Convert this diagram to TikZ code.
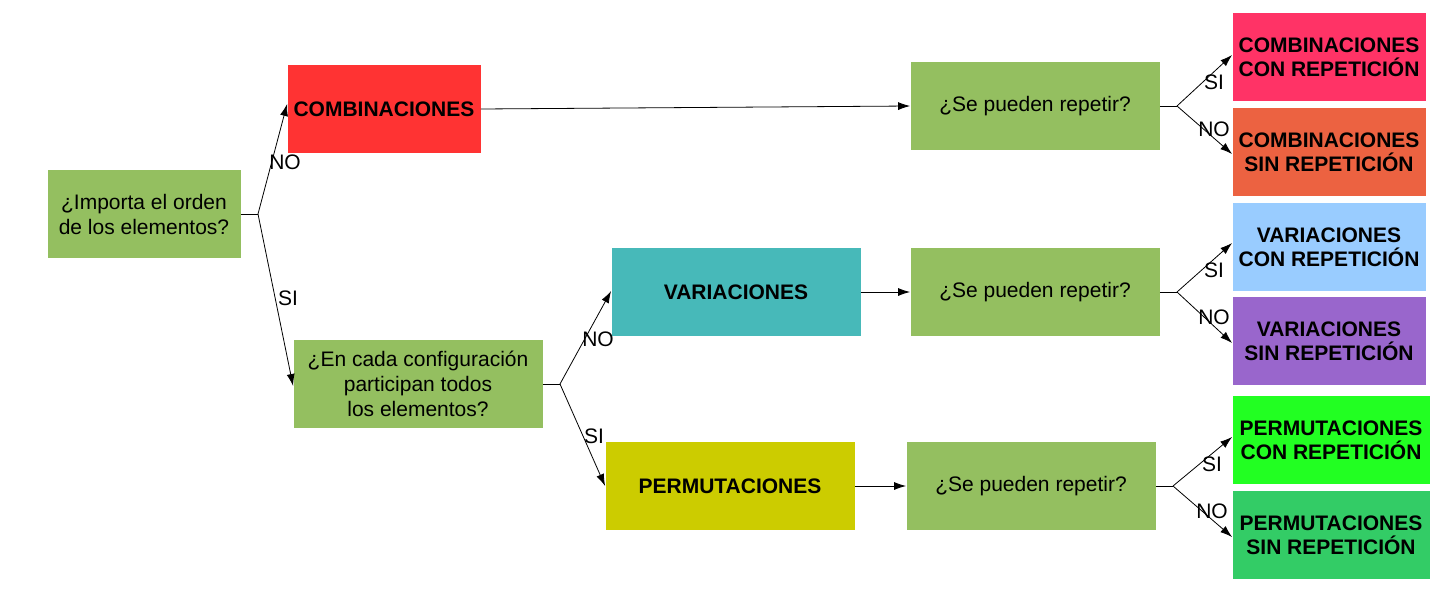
\documentclass[tikz,border=0pt]{standalone}
\usepackage{fontspec}
\setmainfont{Liberation Sans}
\usetikzlibrary{arrows.meta}
\definecolor{qg}{HTML}{94BF60}
\definecolor{cred}{HTML}{FF3333}
\definecolor{ccr}{HTML}{FF3366}
\definecolor{csr}{HTML}{EC6241}
\definecolor{var}{HTML}{47B9B9}
\definecolor{vcr}{HTML}{99CCFF}
\definecolor{vsr}{HTML}{9966CC}
\definecolor{perm}{HTML}{CCCC00}
\definecolor{pcr}{HTML}{22FF22}
\definecolor{psr}{HTML}{33CC66}
\begin{document}
\begin{tikzpicture}[x=0.5pt,y=-0.5pt,
  box/.style={minimum width=96.5pt,minimum height=44pt,inner sep=0pt,align=center,font=\fontsize{10.5}{12.5}\selectfont},
  qbox/.style={box,fill=qg,minimum width=124.5pt},
  res/.style={box,minimum width=96.5pt,font=\fontsize{10.5}{12}\selectfont\bfseries},
  big/.style={box,minimum width=124.5pt,font=\fontsize{10.5}{12}\selectfont\bfseries},
  arr/.style={-{Latex[length=6pt,width=4pt]},black},
  ln/.style={black},
  lab/.style={font=\fontsize{10.5}{12}\selectfont}]
\useasboundingbox (0,0) rectangle (1440,589);
\fill[white] (0,0) rectangle (1440,589);
\node[box,fill=qg] (A) at (144,214) {¿Importa el orden\\de los elementos?};
\node[res,fill=cred] (C) at (384,109) {COMBINACIONES};
\node[qbox] (Q1) at (1035,106) {¿Se pueden repetir?};
\node[res,fill=ccr] (CCR) at (1329,57) {COMBINACIONES\\CON REPETICIÓN};
\node[res,fill=csr] (CSR) at (1329,152) {COMBINACIONES\\SIN REPETICIÓN};
\node[qbox] (B) at (418,384) {¿En cada configuración\\participan todos\\los elementos?};
\node[big,fill=var] (V) at (736,292) {VARIACIONES};
\node[qbox] (Q2) at (1035,292) {¿Se pueden repetir?};
\node[res,fill=vcr] (VCR) at (1329,247) {VARIACIONES\\CON REPETICIÓN};
\node[res,fill=vsr] (VSR) at (1329,341) {VARIACIONES\\SIN REPETICIÓN};
\node[big,fill=perm] (P) at (730,486) {PERMUTACIONES};
\node[qbox] (Q3) at (1031,486) {¿Se pueden repetir?};
\node[res,fill=pcr,minimum width=98.5pt] (PCR) at (1331,440) {PERMUTACIONES\\CON REPETICIÓN};
\node[res,fill=psr,minimum width=98.5pt] (PSR) at (1331,535) {PERMUTACIONES\\SIN REPETICIÓN};
% A split
\coordinate (a1) at (258,214);
\draw[ln] (A.east) -- (a1);
\draw[arr] (a1) -- (C.west|-0,104);
\draw[arr] (a1) -- (B.west|-0,386);
\node[lab] (lno1) at (285,162) {NO};
\node[lab] (lsi1) at (288,298) {SI};
\draw[arr] (C.east) -- (Q1.west);
% B split
\coordinate (b1) at (560,384);
\draw[ln] (B.east) -- (b1);
\draw[arr] (b1) -- (V.west|-0,291);
\draw[arr] (b1) -- (P.west);
\node[lab] (lno2) at (598,339) {NO};
\node[lab] (lsi2) at (594,436) {SI};
\draw[arr] (V.east) -- (Q2.west);
\draw[arr] (P.east) -- (Q3.west);
% Q splits
\coordinate (q1) at (1177,106);
\draw[ln] (Q1.east) -- (q1);
\draw[arr] (q1) -- (CCR.west|-0,55);
\draw[arr] (q1) -- (CSR.west|-0,154);
\node[lab] (s1) at (1214,82) {SI};
\node[lab] (n1) at (1214,129) {NO};
\coordinate (q2) at (1177,292);
\draw[ln] (Q2.east) -- (q2);
\draw[arr] (q2) -- (VCR.west|-0,243);
\draw[arr] (q2) -- (VSR.west|-0,343);
\node[lab] (s2) at (1214,270) {SI};
\node[lab] (n2) at (1214,317) {NO};
\coordinate (q3) at (1173,486);
\draw[ln] (Q3.east) -- (q3);
\draw[arr] (q3) -- (PCR.west|-0,437);
\draw[arr] (q3) -- (PSR.west|-0,537);
\node[lab] (s3) at (1212,464) {SI};
\node[lab] (n3) at (1212,511) {NO};
\end{tikzpicture}
\end{document}
